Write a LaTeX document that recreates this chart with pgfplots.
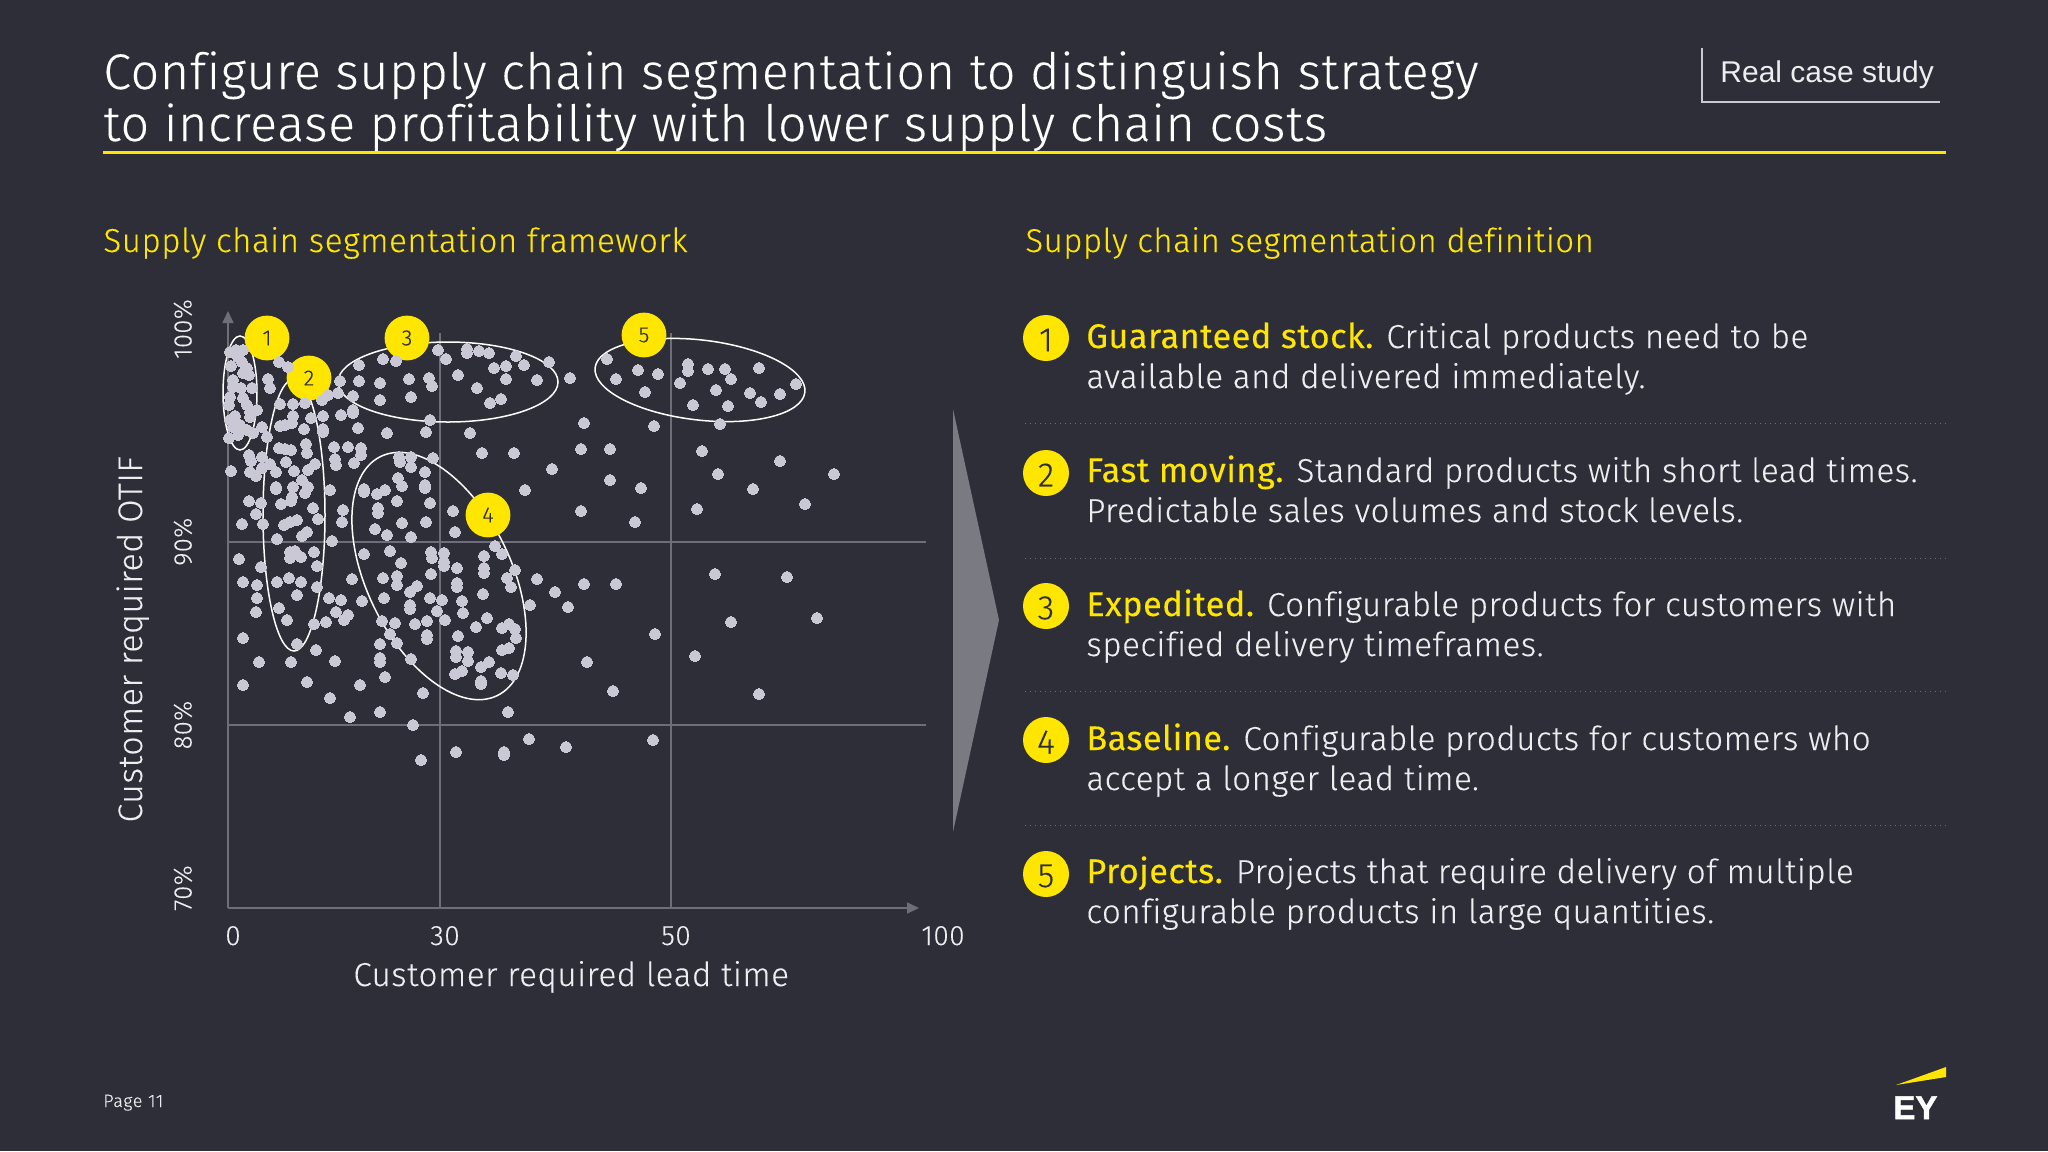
\documentclass[border=0pt]{standalone}
\usepackage{fontspec}
\usepackage{pgfplots}
\usepackage{pgfplotstable}
\pgfplotsset{compat=1.18}
\usetikzlibrary{arrows.meta}
\setmainfont{Fira Sans Light}[LetterSpace=1.5,Ligatures=NoCommon,FakeBold=0.15]
\newfontfamily\medfont{Fira Sans}[LetterSpace=1.5,Ligatures=NoCommon,FakeBold=0.25,Scale=1.03]
\newfontfamily\arial{Liberation Sans}
\definecolor{bg}{HTML}{2E2E38}
\definecolor{eyyellow}{HTML}{FFE600}
\definecolor{dot}{HTML}{C9C8D4}
\definecolor{gridc}{HTML}{6E6E78}
\definecolor{txt}{HTML}{EDEDF0}
\newcommand{\fs}[1]{\fontsize{#1}{#1}\selectfont}
\newcommand{\segitem}[6]{%
  \fill[eyyellow] (1046,#2) circle (11.5pt);
  \node[text=bg,font=\fs{17}] at (1046,#2+2) {#1};
  \node[anchor=base west,inner sep=0,text=txt,font=\fs{16.6}] at (1086,#3+1)
    {\textcolor{eyyellow}{\medfont #4} #5};
  \node[anchor=base west,inner sep=0,text=txt,font=\fs{16.6}] at (1086,#3+41) {#6};
}
% dot positions are in reference pixels, ticks carry the printed values
\pgfplotstableread{
x y
230 352
236 350
243 350
238 357
242 362
231 366
247 368
243 373
249 375
233 380
233 387
241 388
230 397
243 398
252 388
229 405
247 405
250 412
257 410
235 416
230 420
250 417
240 425
247 430
233 427
262 427
229 438
238 435
253 433
267 437
279 362
288 367
268 379
270 388
280 404
293 404
305 403
322 400
328 395
338 393
340 381
353 396
353 410
353 413
341 415
323 416
311 418
293 416
292 423
285 425
280 426
304 429
323 432
323 429
358 428
387 433
426 432
430 420
470 433
482 453
514 453
334 447
348 447
361 448
361 455
354 463
335 459
336 465
306 444
307 453
315 464
308 470
294 471
286 462
291 450
285 449
279 448
249 455
251 461
262 457
270 464
262 468
276 472
250 472
256 476
231 471
302 480
308 487
305 493
293 487
276 487
276 489
292 497
291 501
281 504
261 503
249 501
330 490
313 508
343 510
256 514
242 524
263 524
297 520
290 522
284 525
318 519
342 522
307 532
302 536
277 539
332 541
239 559
261 567
243 582
257 585
277 582
289 578
301 582
290 552
295 551
290 558
301 557
314 552
317 566
317 587
399 457
400 462
411 457
411 467
433 458
425 472
398 478
402 486
425 485
425 488
364 489
364 492
385 490
377 494
397 501
430 503
378 508
378 513
453 511
426 522
402 523
375 529
387 535
411 537
455 532
525 490
364 554
390 551
401 563
431 552
432 558
444 553
444 562
444 566
457 568
484 556
502 554
495 546
484 568
484 573
515 570
507 578
537 579
431 574
457 583
457 587
352 579
383 578
397 576
397 585
417 586
410 592
359 365
383 359
396 361
438 350
446 359
467 349
467 353
479 351
489 353
516 356
494 368
506 366
524 365
549 362
458 375
506 379
537 380
477 388
359 381
380 383
409 379
429 378
432 386
380 400
411 397
490 403
501 399
570 378
607 359
638 370
658 374
616 379
645 392
688 364
688 371
708 369
725 369
731 379
759 368
680 383
716 390
750 393
796 384
780 394
761 402
693 405
728 406
720 424
584 423
654 426
581 449
610 449
702 451
780 461
552 469
610 480
641 488
718 474
834 474
753 489
805 504
697 509
581 511
635 522
715 574
787 577
584 584
616 584
555 592
568 607
655 634
587 662
613 691
566 747
653 740
731 622
817 618
695 656
759 694
257 598
256 612
297 595
279 608
287 620
329 598
341 600
362 601
336 612
348 615
344 620
326 622
314 624
243 638
297 644
316 650
259 662
291 662
335 661
243 685
307 682
360 685
330 698
350 717
380 712
413 725
421 760
456 752
504 752
504 755
529 739
508 712
423 693
385 677
380 658
380 662
411 659
397 643
380 644
390 634
382 621
395 623
384 598
511 587
483 594
430 598
442 600
462 601
410 605
410 609
437 611
463 613
530 605
415 624
427 621
445 620
487 618
476 627
427 635
427 639
458 636
502 628
509 624
515 629
516 638
509 648
502 650
456 651
456 657
468 652
468 661
489 662
481 667
455 674
462 671
501 673
513 675
481 681
481 684
}\dotdata
\begin{document}
\begin{tikzpicture}[x=0.5pt,y=-0.5pt]
\useasboundingbox (0,0) rectangle (2048,1151);
\fill[bg] (0,0) rectangle (2048,1151);
% header
\node[anchor=base west,inner sep=0,text=white,font=\fs{25}] at (103,89) {Configure supply chain segmentation to distinguish strategy};
\node[anchor=base west,inner sep=0,text=white,font=\fs{25}] at (103,141) {to increase profitability with lower supply chain costs};
\fill[eyyellow] (103,150.5) rectangle (1946,153.5);
\draw[color=dot,line width=0.6pt] (1702,48) -- (1702,102) -- (1940,102);
\node[anchor=base west,inner sep=0,text=txt,font=\arial\fs{15}] at (1720,82) {Real case study};
\node[anchor=base west,inner sep=0,text=eyyellow,font=\fs{16.6}] at (103,252) {Supply chain segmentation framework};
\node[anchor=base west,inner sep=0,text=eyyellow,font=\fs{16.5}] at (1025,252) {Supply chain segmentation definition};
% scatter
\begin{axis}[
  at={(114pt,-454pt)},anchor=south west,
  scale only axis,width=356pt,height=298.5pt,
  xmin=228,xmax=940,ymin=311,ymax=908,y dir=reverse,
  axis line style={draw=none},
  tick style={draw=none},
  xtick={228,440,671,938},xticklabels={0,30,50,100},
  ytick={329,541.7,725,888},yticklabels={100\%,90\%,80\%,70\%},
  xticklabel style={text=txt,font=\fs{14},xshift=2.5pt,yshift=-5.5pt},
  yticklabel style={text=txt,font=\fs{12.7},rotate=90,anchor=south,yshift=14.4pt},
  xlabel={Customer required lead time},ylabel={Customer required OTIF},
  xlabel style={text=txt,font=\fs{16.6},at={(axis description cs:0.482,0)},anchor=base,yshift=-39pt},
  ylabel style={text=txt,font=\fs{17},at={(axis description cs:0,0.45)},anchor=base,rotate=0,yshift=43pt},
  clip=false,
]
\addplot[gridc,line width=0.8pt] coordinates {(440,333) (440,908)};
\addplot[gridc,line width=0.8pt] coordinates {(671,333) (671,908)};
\addplot[gridc,line width=0.8pt] coordinates {(228,541.7) (926,541.7)};
\addplot[gridc,line width=0.8pt] coordinates {(228,725) (926,725)};
\addplot[gridc,line width=0.8pt,-{Triangle[length=6pt,width=5.5pt]}] coordinates {(228,908) (228,311)};
\addplot[gridc,line width=0.8pt,-{Triangle[length=6pt,width=5.5pt]}] coordinates {(228,908) (919,908)};
\addplot[only marks,color=dot,mark=*,mark size=2.8pt,mark options={draw=dot,fill=dot,line width=0pt}] table[x=x,y=y] {\dotdata};
\draw[white,line width=0.75pt] (axis cs:240,393) ellipse [x radius=8.5pt,y radius=28.5pt];
\draw[white,line width=0.75pt] (axis cs:294,515) ellipse [x radius=15.5pt,y radius=68pt];
\draw[white,line width=0.75pt] (axis cs:448,382) ellipse [x radius=55pt,y radius=20pt];
\draw[white,line width=0.75pt,rotate around={26:(axis cs:439,576)}] (axis cs:439,576) ellipse [x radius=36pt,y radius=66.5pt];
\draw[white,line width=0.75pt,rotate around={-6.7:(axis cs:700,380)}] (axis cs:700,380) ellipse [x radius=52.8pt,y radius=20pt];
\fill[eyyellow] (axis cs:267,338) circle (11.2pt) node[text=bg,font=\fs{11}] {1};
\fill[eyyellow] (axis cs:309,378) circle (11.2pt) node[text=bg,font=\fs{11}] {2};
\fill[eyyellow] (axis cs:407,338) circle (11.2pt) node[text=bg,font=\fs{11}] {3};
\fill[eyyellow] (axis cs:488,515) circle (11.2pt) node[text=bg,font=\fs{11}] {4};
\fill[eyyellow] (axis cs:644,335) circle (11.2pt) node[text=bg,font=\fs{11}] {5};
\end{axis}
\fill[color=gridc!92!white] (953,409) -- (999,620) -- (953,832) -- cycle;
% definitions
\segitem{1}{338}{347}{Guaranteed stock.}{Critical products need to be}{available and delivered immediately.}
\segitem{2}{473}{481}{Fast moving.}{Standard products with short lead times.}{Predictable sales volumes and stock levels.}
\segitem{3}{606}{615}{Expedited.}{Configurable products for customers with}{specified delivery timeframes.}
\segitem{4}{740}{749}{Baseline.}{Configurable products for customers who}{accept a longer lead time.}
\segitem{5}{874}{882}{Projects.}{Projects that require delivery of multiple}{configurable products in large quantities.}
\foreach \yy in {423,558,691,825}
  \draw[gridc,line width=0.5pt,dotted] (1025,\yy) -- (1946,\yy);
% footer
\node[anchor=base west,inner sep=0,text=txt,font=\fs{9}] at (103,1107) {\addfontfeature{LetterSpace=3.5}Page 11};
\fill[eyyellow] (1896,1085) -- (1946,1067) -- (1946,1077) -- cycle;
\node[anchor=base west,inner sep=0,text=white,font=\arial\bfseries\fs{16.5}] at (1893,1119) {\addfontfeature{FakeBold=1.5}EY};
\end{tikzpicture}
\end{document}
